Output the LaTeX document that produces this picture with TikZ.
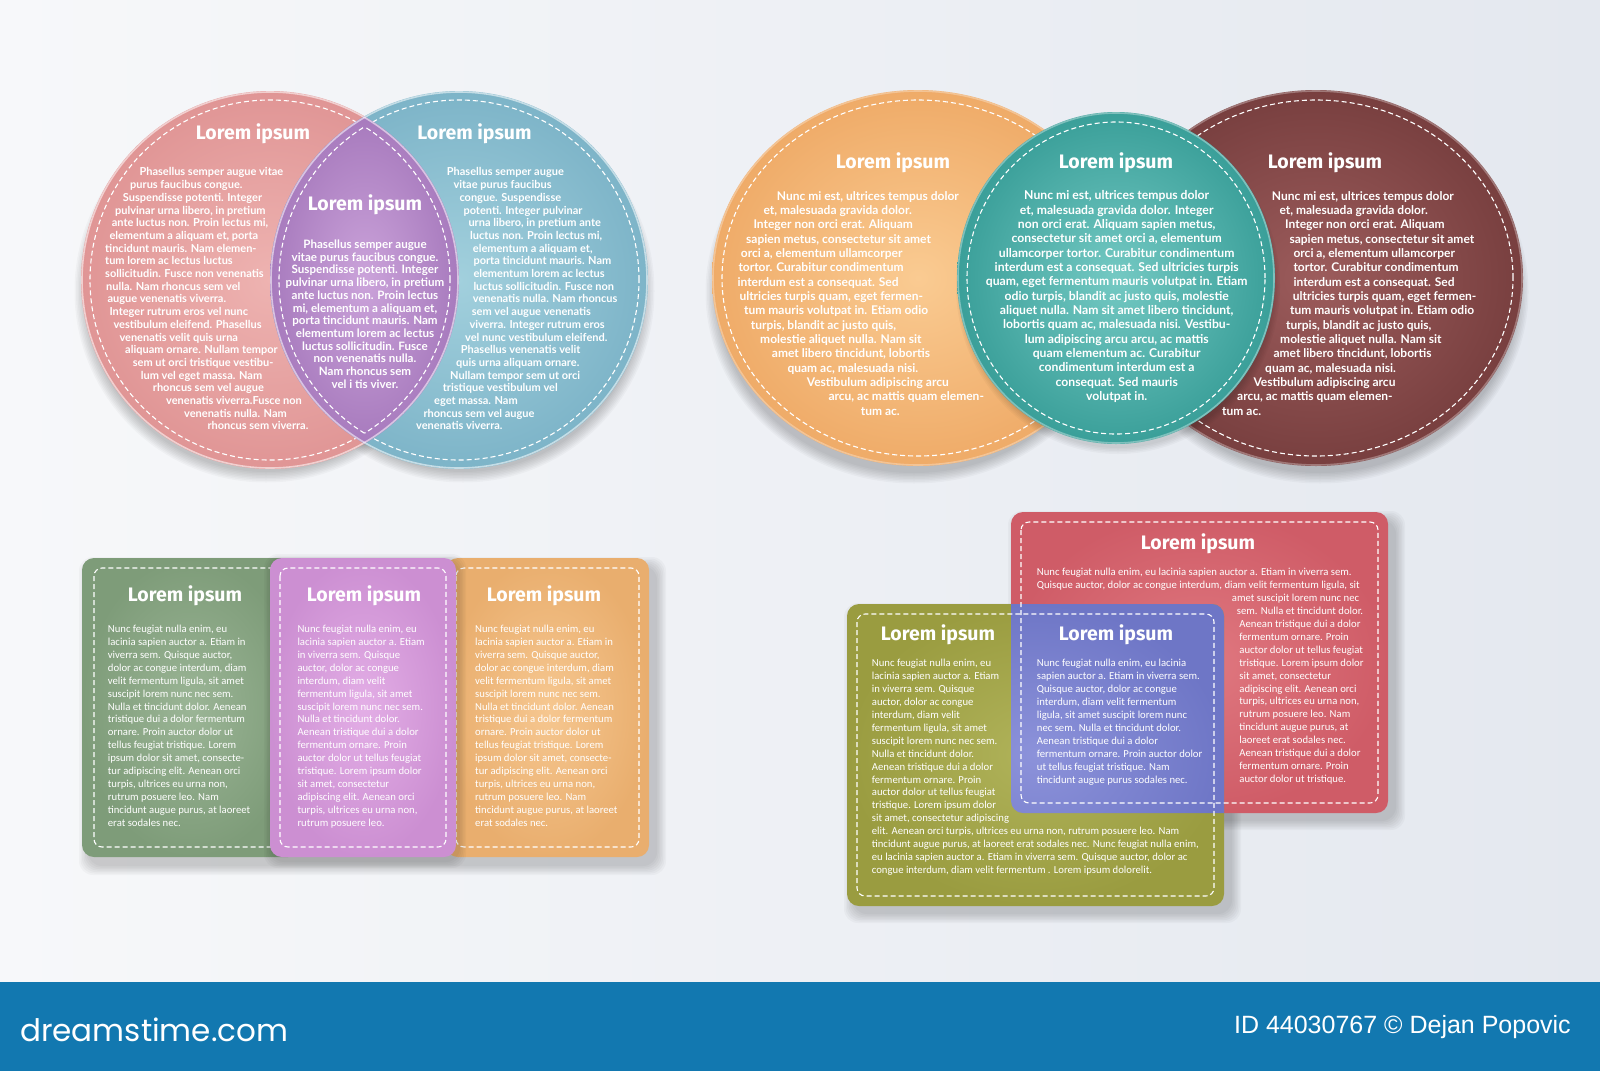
\documentclass[tikz,border=0pt]{standalone}
\usepackage{fontspec}
\newfontfamily\bodyfont{Lato}
\newfontfamily\titlefont{Fira Sans}
\newfontfamily\rectfont{Carlito}
\newfontfamily\footfont{Liberation Sans}
\newfontfamily\logofont{Poppins}
\definecolor{bgL}{HTML}{F7F8FA}
\definecolor{bgR}{HTML}{E4E8EF}
\definecolor{pinkI}{HTML}{EEB3B1}
\definecolor{pinkO}{HTML}{E09595}
\definecolor{blueI}{HTML}{A2D0DD}
\definecolor{blueO}{HTML}{7DB4C8}
\definecolor{lensI}{HTML}{CBA3DA}
\definecolor{lensO}{HTML}{A77ABD}
\definecolor{orI}{HTML}{FACB92}
\definecolor{orO}{HTML}{EFAB68}
\definecolor{tealI}{HTML}{74C9C3}
\definecolor{tealO}{HTML}{3A9F99}
\definecolor{brI}{HTML}{9C5C5C}
\definecolor{brO}{HTML}{783F3F}
\definecolor{grnI}{HTML}{9BB596}
\definecolor{grnO}{HTML}{7E9C79}
\definecolor{purI}{HTML}{E3AEE6}
\definecolor{purO}{HTML}{CC8FD2}
\definecolor{orpI}{HTML}{F6C790}
\definecolor{orpO}{HTML}{E9AE6E}
\definecolor{redI}{HTML}{E07880}
\definecolor{redO}{HTML}{CF5C67}
\definecolor{oliI}{HTML}{B0B35A}
\definecolor{oliO}{HTML}{9A9C40}
\definecolor{bluI}{HTML}{8C92DA}
\definecolor{bluO}{HTML}{6E76C6}
\definecolor{foot}{HTML}{1278B0}
\tikzset{
 stitch/.style={draw=white, line width=1.1pt, dash pattern=on 5pt off 3pt},
 rim/.style={draw=white, draw opacity=0.55, line width=1.6pt},
 ttl/.style={font=\titlefont\bfseries\fontsize{19.5}{22}\selectfont, text=white, inner sep=0},
 ctxt/.style={font=\bodyfont\bfseries\fontsize{11}{12.7}\selectfont, text=white, inner sep=0, anchor=north west, align=left},
 ctxtc/.style={font=\bodyfont\bfseries\fontsize{11.6}{12.7}\selectfont, text=white, inner sep=0, anchor=north, align=center},
 etxt/.style={font=\bodyfont\bfseries\fontsize{12}{14.33}\selectfont, text=white, inner sep=0, anchor=north west, align=left},
 etxtc/.style={font=\bodyfont\bfseries\fontsize{12.2}{14.33}\selectfont, text=white, inner sep=0, anchor=north, align=center},
 rtxt/.style={font=\rectfont\fontsize{10.7}{12.9}\selectfont, text=white, inner sep=0, anchor=north west, align=left},
 shad/.style={fill=black, opacity=0.028},
}
\begin{document}
\begin{tikzpicture}[x=1pt,y=-1pt]
\useasboundingbox (0,0) rectangle (1600,1071);
\shade[left color=bgL,right color=bgR] (0,0) rectangle (1600,982);
\fill[foot] (0,982) rectangle (1600,1071);

%% ---------- top-left venn ----------
\foreach \k in {0,...,7} {
  \fill[shad] (266,291) circle[radius=181pt+1.5pt*\k];
  \fill[shad] (463,291) circle[radius=181pt+1.5pt*\k];
}
\shade[inner color=pinkI, outer color=pinkO] (270,280) circle[radius=189pt];
\draw[rim] (270,280) circle[radius=188pt];
\draw[stitch] (270,280) circle[radius=180pt];
\shade[inner color=blueI, outer color=blueO] (459,280) circle[radius=189pt];
\draw[rim] (459,280) circle[radius=188pt];
\draw[stitch] (459,280) circle[radius=180pt];
\begin{scope}
  \clip (270,280) circle[radius=189pt];
  \clip (459,280) circle[radius=189pt];
  \shade[inner color=lensI, outer color=lensO] (270,116) rectangle (459,444);
\end{scope}
\begin{scope}
  \clip (270,280) circle[radius=189pt];
  \draw[rim] (459,280) circle[radius=188pt];
\end{scope}
\begin{scope}
  \clip (459,280) circle[radius=189pt];
  \draw[rim] (270,280) circle[radius=188pt];
\end{scope}
\begin{scope}
  \clip (270,280) circle[radius=180pt];
  \draw[stitch] (459,280) circle[radius=180pt];
\end{scope}
\begin{scope}
  \clip (459,280) circle[radius=180pt];
  \draw[stitch] (270,280) circle[radius=180pt];
\end{scope}

\node[ttl] (t1) at (253,134) {Lorem ipsum};
\node[ttl] (t2) at (474.5,134) {Lorem ipsum};
\node[ttl] (t3) at (365,205) {Lorem ipsum};

\node[ctxt] (pinktxt) at (105,167.6) {%
\hspace*{34.3pt}Phasellus semper augue vitae\\
\hspace*{25pt}purus faucibus congue.\\
\hspace*{17.7pt}Suspendisse potenti. Integer\\
\hspace*{10pt}pulvinar urna libero, in pretium\\
\hspace*{6.7pt}ante luctus non. Proin lectus mi,\\
\hspace*{4.3pt}elementum a aliquam et, porta\\
tincidunt mauris. Nam elemen-\\
tum lorem ac lectus luctus\\
sollicitudin. Fusce non venenatis\\
\hspace*{1pt}nulla. Nam rhoncus sem vel\\
\hspace*{2.3pt}augue venenatis viverra.\\
\hspace*{4.3pt}Integer rutrum eros vel nunc\\
\hspace*{8.3pt}vestibulum eleifend. Phasellus\\
\hspace*{14.3pt}venenatis velit quis urna\\
\hspace*{20pt}aliquam ornare. Nullam tempor\\
\hspace*{27.7pt}sem ut orci tristique vestibu-\\
\hspace*{35.7pt}lum vel eget massa. Nam\\
\hspace*{47.7pt}rhoncus sem vel augue\\
\hspace*{61pt}venenatis viverra.Fusce non\\
\hspace*{79pt}venenatis nulla. Nam\\
\hspace*{102.3pt}rhoncus sem viverra.};

\node[ctxtc] (lenstxt) at (365,239.7) {%
Phasellus semper augue\\
vitae purus faucibus congue.\\
Suspendisse potenti. Integer\\
pulvinar urna libero, in pretium\\
ante luctus non. Proin lectus\\
mi, elementum a aliquam et,\\
porta tincidunt mauris. Nam\\
elementum lorem ac lectus\\
luctus sollicitudin. Fusce\\
non venenatis nulla.\\
Nam rhoncus sem\\
vel i tis viver.};

\node[ctxt] (bluetxt) at (416,167.6) {%
\hspace*{30.7pt}Phasellus semper augue\\
\hspace*{37.3pt}vitae purus faucibus\\
\hspace*{43.3pt}congue. Suspendisse\\
\hspace*{47.3pt}potenti. Integer pulvinar\\
\hspace*{52.3pt}urna libero, in pretium ante\\
\hspace*{54pt}luctus non. Proin lectus mi,\\
\hspace*{56.7pt}elementum a aliquam et,\\
\hspace*{57.3pt}porta tincidunt mauris. Nam\\
\hspace*{57.3pt}elementum lorem ac lectus\\
\hspace*{57.3pt}luctus sollicitudin. Fusce non\\
\hspace*{56.7pt}venenatis nulla. Nam rhoncus\\
\hspace*{55.7pt}sem vel augue venenatis\\
\hspace*{53.3pt}viverra. Integer rutrum eros\\
\hspace*{49pt}vel nunc vestibulum eleifend.\\
\hspace*{44.7pt}Phasellus venenatis velit\\
\hspace*{40pt}quis urna aliquam ornare.\\
\hspace*{34pt}Nullam tempor sem ut orci\\
\hspace*{26.7pt}tristique vestibulum vel\\
\hspace*{18pt}eget massa. Nam\\
\hspace*{7.3pt}rhoncus sem vel augue\\
venenatis viverra.};

%% ---------- top-right venn ----------
\foreach \k in {0,...,7} {
  \fill[shad] (914,292) ellipse[x radius=198pt+1.5pt*\k, y radius=181pt+1.5pt*\k];
  \fill[shad] (1320,292) ellipse[x radius=198pt+1.5pt*\k, y radius=181pt+1.5pt*\k];
}
\shade[inner color=brI, outer color=brO] (1316,278) ellipse[x radius=207pt, y radius=188pt];
\draw[rim, draw opacity=0.3] (1316,278) ellipse[x radius=206pt, y radius=187pt];
\draw[stitch] (1316,278) ellipse[x radius=197pt, y radius=178pt];
\shade[inner color=orI, outer color=orO] (918,278) ellipse[x radius=206pt, y radius=188pt];
\draw[rim, draw opacity=0.3] (918,278) ellipse[x radius=205pt, y radius=187pt];
\draw[stitch] (918,278) ellipse[x radius=196pt, y radius=178pt];
\foreach \k in {0,...,4} {
  \fill[shad] (1118,286) ellipse[x radius=156pt+1.5pt*\k, y radius=162pt+1.5pt*\k];
}
\shade[inner color=tealI, outer color=tealO] (1116,278) ellipse[x radius=159pt, y radius=166pt];
\draw[rim, draw opacity=0.35] (1116,278) ellipse[x radius=158pt, y radius=165pt];
\draw[stitch] (1116,278) ellipse[x radius=149pt, y radius=156pt];

\node[ttl] (t4) at (893,163) {Lorem ipsum};
\node[ttl] (t5) at (1116,163) {Lorem ipsum};
\node[ttl] (t6) at (1325,163) {Lorem ipsum};

\node[etxt] (ortxt) at (737.3,191.2) {%
\hspace*{39.4pt}Nunc mi est, ultrices tempus dolor\\
\hspace*{26pt}et, malesuada gravida dolor.\\
\hspace*{16pt}Integer non orci erat. Aliquam\\
\hspace*{8.7pt}sapien metus, consectetur sit amet\\
\hspace*{3.4pt}orci a, elementum ullamcorper\\
\hspace*{1pt}tortor. Curabitur condimentum\\
interdum est a consequat. Sed\\
\hspace*{2pt}ultricies turpis quam, eget fermen-\\
\hspace*{6.7pt}tum mauris volutpat in. Etiam odio\\
\hspace*{13.4pt}turpis, blandit ac justo quis,\\
\hspace*{22.7pt}molestie aliquet nulla. Nam sit\\
\hspace*{34.4pt}amet libero tincidunt, lobortis\\
\hspace*{50pt}quam ac, malesuada nisi.\\
\hspace*{69.4pt}Vestibulum adipiscing arcu\\
\hspace*{91pt}arcu, ac mattis quam elemen-\\
\hspace*{123.4pt}tum ac.};

\node[etxtc] (tealtxt) at (1116.7,190.5) {%
Nunc mi est, ultrices tempus dolor\\
et, malesuada gravida dolor. Integer\\
non orci erat. Aliquam sapien metus,\\
consectetur sit amet orci a, elementum\\
ullamcorper tortor. Curabitur condimentum\\
interdum est a consequat. Sed ultricies turpis\\
quam, eget fermentum mauris volutpat in. Etiam\\
odio turpis, blandit ac justo quis, molestie\\
aliquet nulla. Nam sit amet libero tincidunt,\\
lobortis quam ac, malesuada nisi. Vestibu-\\
lum adipiscing arcu arcu, ac mattis\\
quam elementum ac. Curabitur\\
condimentum interdum est a\\
consequat. Sed mauris\\
volutpat in.};

\node[etxt] (brtxt) at (1222,191.2) {%
\hspace*{49.7pt}Nunc mi est, ultrices tempus dolor\\
\hspace*{57.3pt}et, malesuada gravida dolor.\\
\hspace*{63pt}Integer non orci erat. Aliquam\\
\hspace*{67.3pt}sapien metus, consectetur sit amet\\
\hspace*{71.3pt}orci a, elementum ullamcorper\\
\hspace*{71.3pt}tortor. Curabitur condimentum\\
\hspace*{71.3pt}interdum est a consequat. Sed\\
\hspace*{70.7pt}ultricies turpis quam, eget fermen-\\
\hspace*{68pt}tum mauris volutpat in. Etiam odio\\
\hspace*{64pt}turpis, blandit ac justo quis,\\
\hspace*{58pt}molestie aliquet nulla. Nam sit\\
\hspace*{51.3pt}amet libero tincidunt, lobortis\\
\hspace*{43pt}quam ac, malesuada nisi.\\
\hspace*{31.3pt}Vestibulum adipiscing arcu\\
\hspace*{15pt}arcu, ac mattis quam elemen-\\
tum ac.};

%% ---------- bottom-left panels ----------
\foreach \k in {0,...,6} {
  \fill[shad, rounded corners=14pt] (88-1.5*\k,566-1.5*\k) rectangle (657+1.5*\k,866+1.5*\k);
}
\shade[inner color=grnI, outer color=grnO, rounded corners=12pt] (82,558) rectangle (300,857);
\draw[stitch, rounded corners=8pt] (94,568) rectangle (290,847);
\shade[inner color=orpI, outer color=orpO, rounded corners=12pt] (446,558) rectangle (649,857);
\draw[stitch, rounded corners=8pt] (456,568) rectangle (639,847);
\foreach \k in {0,...,4} {
  \fill[shad, rounded corners=14pt] (270-1.5*\k,560-1.5*\k) rectangle (460+1.5*\k,862+1.5*\k);
}
\shade[inner color=purI, outer color=purO, rounded corners=12pt] (270,558) rectangle (456,857);
\draw[stitch, rounded corners=8pt] (280,568) rectangle (446,847);

\node[ttl] (t7) at (185,596) {Lorem ipsum};
\node[ttl] (t8) at (364,596) {Lorem ipsum};
\node[ttl] (t9) at (544,596) {Lorem ipsum};

\node[rtxt] (grntxt) at (107.7,625) {%
Nunc feugiat nulla enim, eu\\
lacinia sapien auctor a. Etiam in\\
viverra sem. Quisque auctor,\\
dolor ac congue interdum, diam\\
velit fermentum ligula, sit amet\\
suscipit lorem nunc nec sem.\\
Nulla et tincidunt dolor. Aenean\\
tristique dui a dolor fermentum\\
ornare. Proin auctor dolor ut\\
tellus feugiat tristique. Lorem\\
ipsum dolor sit amet, consecte-\\
tur adipiscing elit. Aenean orci\\
turpis, ultrices eu urna non,\\
rutrum posuere leo. Nam\\
tincidunt augue purus, at laoreet\\
erat sodales nec.};

\node[rtxt] (purtxt) at (297.3,625) {%
Nunc feugiat nulla enim, eu\\
lacinia sapien auctor a. Etiam\\
in viverra sem. Quisque\\
auctor, dolor ac congue\\
interdum, diam velit\\
fermentum ligula, sit amet\\
suscipit lorem nunc nec sem.\\
Nulla et tincidunt dolor.\\
Aenean tristique dui a dolor\\
fermentum ornare. Proin\\
auctor dolor ut tellus feugiat\\
tristique. Lorem ipsum dolor\\
sit amet, consectetur\\
adipiscing elit. Aenean orci\\
turpis, ultrices eu urna non,\\
rutrum posuere leo.};

\node[rtxt] (orptxt) at (475,625) {%
Nunc feugiat nulla enim, eu\\
lacinia sapien auctor a. Etiam in\\
viverra sem. Quisque auctor,\\
dolor ac congue interdum, diam\\
velit fermentum ligula, sit amet\\
suscipit lorem nunc nec sem.\\
Nulla et tincidunt dolor. Aenean\\
tristique dui a dolor fermentum\\
ornare. Proin auctor dolor ut\\
tellus feugiat tristique. Lorem\\
ipsum dolor sit amet, consecte-\\
tur adipiscing elit. Aenean orci\\
turpis, ultrices eu urna non,\\
rutrum posuere leo. Nam\\
tincidunt augue purus, at laoreet\\
erat sodales nec.};

%% ---------- bottom-right boxes ----------
\foreach \k in {0,...,6} {
  \fill[shad, rounded corners=14pt] (1017-1.5*\k,520-1.5*\k) rectangle (1396+1.5*\k,821+1.5*\k);
  \fill[shad, rounded corners=14pt] (853-1.5*\k,612-1.5*\k) rectangle (1232+1.5*\k,914+1.5*\k);
}
\shade[inner color=redI, outer color=redO, rounded corners=12pt] (1011,512) rectangle (1388,813);
\shade[inner color=oliI, outer color=oliO, rounded corners=12pt] (847,604) rectangle (1224,906);
\begin{scope}
  \clip[rounded corners=12pt] (1011,512) rectangle (1388,813);
  \shade[inner color=bluI, outer color=bluO, rounded corners=12pt] (847,604) rectangle (1224,906);
\end{scope}
\draw[stitch, rounded corners=8pt] (1021,522) rectangle (1378,803);
\draw[stitch, rounded corners=8pt] (857,614) rectangle (1214,896);

\node[ttl] (t10) at (1198,544) {Lorem ipsum};
\node[ttl] (t11) at (938,635) {Lorem ipsum};
\node[ttl] (t12) at (1116,635) {Lorem ipsum};

\node[rtxt] (redtxt) at (1036.7,568.3) {%
Nunc feugiat nulla enim, eu lacinia sapien auctor a. Etiam in viverra sem.\\
Quisque auctor, dolor ac congue interdum, diam velit fermentum ligula, sit\\
\hspace*{195pt}amet suscipit lorem nunc nec\\
\hspace*{200pt}sem. Nulla et tincidunt dolor.\\
\hspace*{202.5pt}Aenean tristique dui a dolor\\
\hspace*{202.5pt}fermentum ornare. Proin\\
\hspace*{202.5pt}auctor dolor ut tellus feugiat\\
\hspace*{202.5pt}tristique. Lorem ipsum dolor\\
\hspace*{202.5pt}sit amet, consectetur\\
\hspace*{202.5pt}adipiscing elit. Aenean orci\\
\hspace*{202.5pt}turpis, ultrices eu urna non,\\
\hspace*{202.5pt}rutrum posuere leo. Nam\\
\hspace*{202.5pt}tincidunt augue purus, at\\
\hspace*{202.5pt}laoreet erat sodales nec.\\
\hspace*{202.5pt}Aenean tristique dui a dolor\\
\hspace*{202.5pt}fermentum ornare. Proin\\
\hspace*{202.5pt}auctor dolor ut tristique.};

\node[rtxt] (blutxt) at (1036.7,659.3) {%
Nunc feugiat nulla enim, eu lacinia\\
sapien auctor a. Etiam in viverra sem.\\
Quisque auctor, dolor ac congue\\
interdum, diam velit fermentum\\
ligula, sit amet suscipit lorem nunc\\
nec sem. Nulla et tincidunt dolor.\\
Aenean tristique dui a dolor\\
fermentum ornare. Proin auctor dolor\\
ut tellus feugiat tristique. Nam\\
tincidunt augue purus sodales nec.};

\node[rtxt] (olitxt) at (871.7,659.3) {%
Nunc feugiat nulla enim, eu\\
lacinia sapien auctor a. Etiam\\
in viverra sem. Quisque\\
auctor, dolor ac congue\\
interdum, diam velit\\
fermentum ligula, sit amet\\
suscipit lorem nunc nec sem.\\
Nulla et tincidunt dolor.\\
Aenean tristique dui a dolor\\
fermentum ornare. Proin\\
auctor dolor ut tellus feugiat\\
tristique. Lorem ipsum dolor\\
sit amet, consectetur adipiscing\\
elit. Aenean orci turpis, ultrices eu urna non, rutrum posuere leo. Nam\\
tincidunt augue purus, at laoreet erat sodales nec. Nunc feugiat nulla enim,\\
eu lacinia sapien auctor a. Etiam in viverra sem. Quisque auctor, dolor ac\\
congue interdum, diam velit fermentum . Lorem ipsum dolorelit.};

%% ---------- footer ----------
\node[font=\logofont\fontsize{31}{36}\selectfont, text=white, anchor=west, inner sep=0] (logo) at (20,1030) {dreamstime.com};
\node[font=\footfont\fontsize{25}{30}\selectfont, text=white, anchor=east, inner sep=0] (credit) at (1571,1027) {ID 44030767 © Dejan Popovic};
\end{tikzpicture}
\end{document}
